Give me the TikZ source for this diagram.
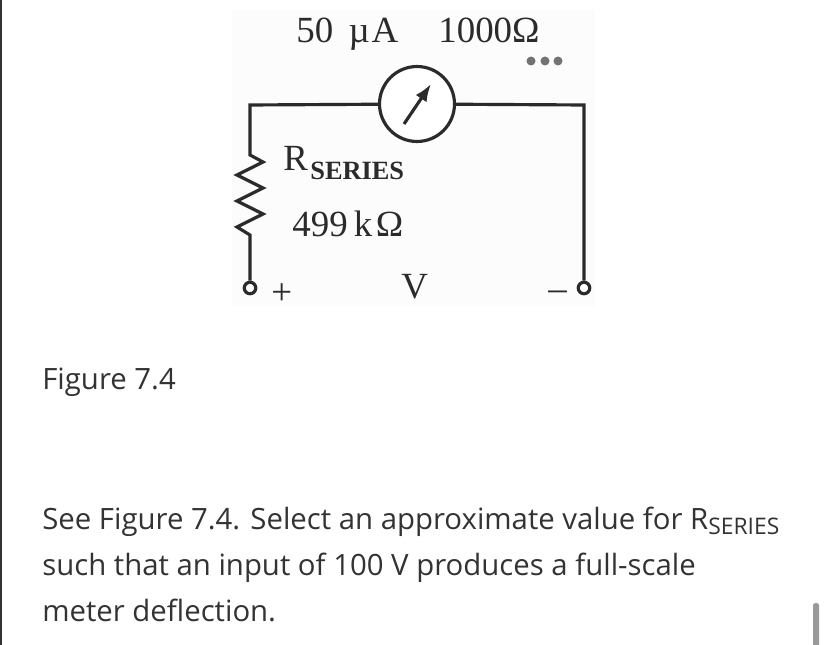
\documentclass[tikz,border=0pt]{standalone}
\usepackage{fontspec}
\setmainfont{Open Sans}
\newfontfamily\circuitfont{Liberation Serif}
\usetikzlibrary{positioning,arrows.meta}
\definecolor{inkgray}{HTML}{333333}
\definecolor{wirecolor}{HTML}{2B2B2B}
\begin{document}
\begin{tikzpicture}[x=0.02cm, y=-0.02cm, font=\fontsize{16.7pt}{20pt}\selectfont]

		% Setup the styles
		\tikzset{wire/.style={draw=wirecolor, line width=1.8pt},
			terminal/.style={circle, draw=wirecolor, line width=1.8pt, fill=white, minimum size=0.23cm, inner sep=0pt},
			circuit text/.style={text=wirecolor, inner sep=0pt, font=\circuitfont\fontsize{21pt}{24pt}\selectfont},
			page text/.style={text=inkgray, inner sep=0pt, anchor=base west},
			dot/.style={circle, fill=black!55, minimum size=0.18cm, inner sep=0pt}}

		% Page and picture area
		\useasboundingbox (0, 0) rectangle (825, 645);
		\fill[white] (0, 0) rectangle (825, 645);
		\fill[black!1] (232, 10) rectangle (595, 306);
		\fill[inkgray] (0, 0) rectangle (2, 650);
		\fill[black!40, rounded corners=1pt] (813, 603) rectangle (819, 650);

		% Draw the meter and the terminals
		\node[circle, draw=wirecolor, line width=1.8pt, fill=white, minimum size=1.5cm, inner sep=0pt] at (417, 104) (meter) {};
		\node[terminal] at (250, 288) (plus terminal) {};
		\node[terminal] at (584, 288) (minus terminal) {};

		% Corners and resistor ends
		\coordinate (top left) at (250, 105);
		\coordinate (top right) at (584, 105);
		\coordinate (res top) at (250, 155);
		\coordinate (res bottom) at (250, 235);
		\coordinate (needle start) at (404, 124);
		\coordinate (needle end) at (431, 84);

		% Connect with wires
		\draw[wire] (meter) -- (top left) -- (res top)
			-- ++(13, 7) -- ++(-26, 13) -- ++(26, 13) -- ++(-26, 13) -- ++(26, 13) -- ++(-26, 13) -- (res bottom)
			-- (plus terminal);
		\draw[wire] (meter) -- (top right) -- (minus terminal);
		\draw[wire, -{Latex[length=3.5mm, width=2.6mm]}] (needle start) -- (needle end);

		% Three dots
		\node[dot] at (531, 61) (dot one) {};
		\node[dot] at (545, 61) (dot two) {};
		\node[dot] at (558, 61) (dot three) {};

		% Circuit labels
		\node[circuit text, anchor=base west] at (296, 43) (current) {50\ \,µ\kern1ptA};
		\node[circuit text, anchor=base west] at (438, 43) (resistance) {1000Ω};
		\node[circuit text, anchor=base west] at (283, 171) (rname) {R};
		\node[circuit text, anchor=base west, font=\circuitfont\bfseries\fontsize{15pt}{18pt}\selectfont] at (310, 180) (rsub) {SERIES};
		\node[circuit text, anchor=base west] at (292, 237) (rvalue) {499\,k\kern2ptΩ};
		\node[circuit text, anchor=base west] at (401, 298) (volt) {V};
		\node[circuit text, anchor=base west] at (271, 304) (plus) {+};
		\node[circuit text, anchor=base west] at (548, 300) (minus) {–};

		% Page text
		\node[page text] at (42, 389) (caption) {Figure 7.4};
		\node[page text] at (42, 529) (line one) {See Figure 7.4. Select an approximate value for R\raisebox{-0.35ex}{\fontsize{13pt}{16pt}\selectfont SERIES}};
		\node[page text] at (42, 575) (line two) {such that an input of 100 V produces a full-scale};
		\node[page text] at (42, 621) (line three) {meter deflection.};
\end{tikzpicture}
\end{document}
